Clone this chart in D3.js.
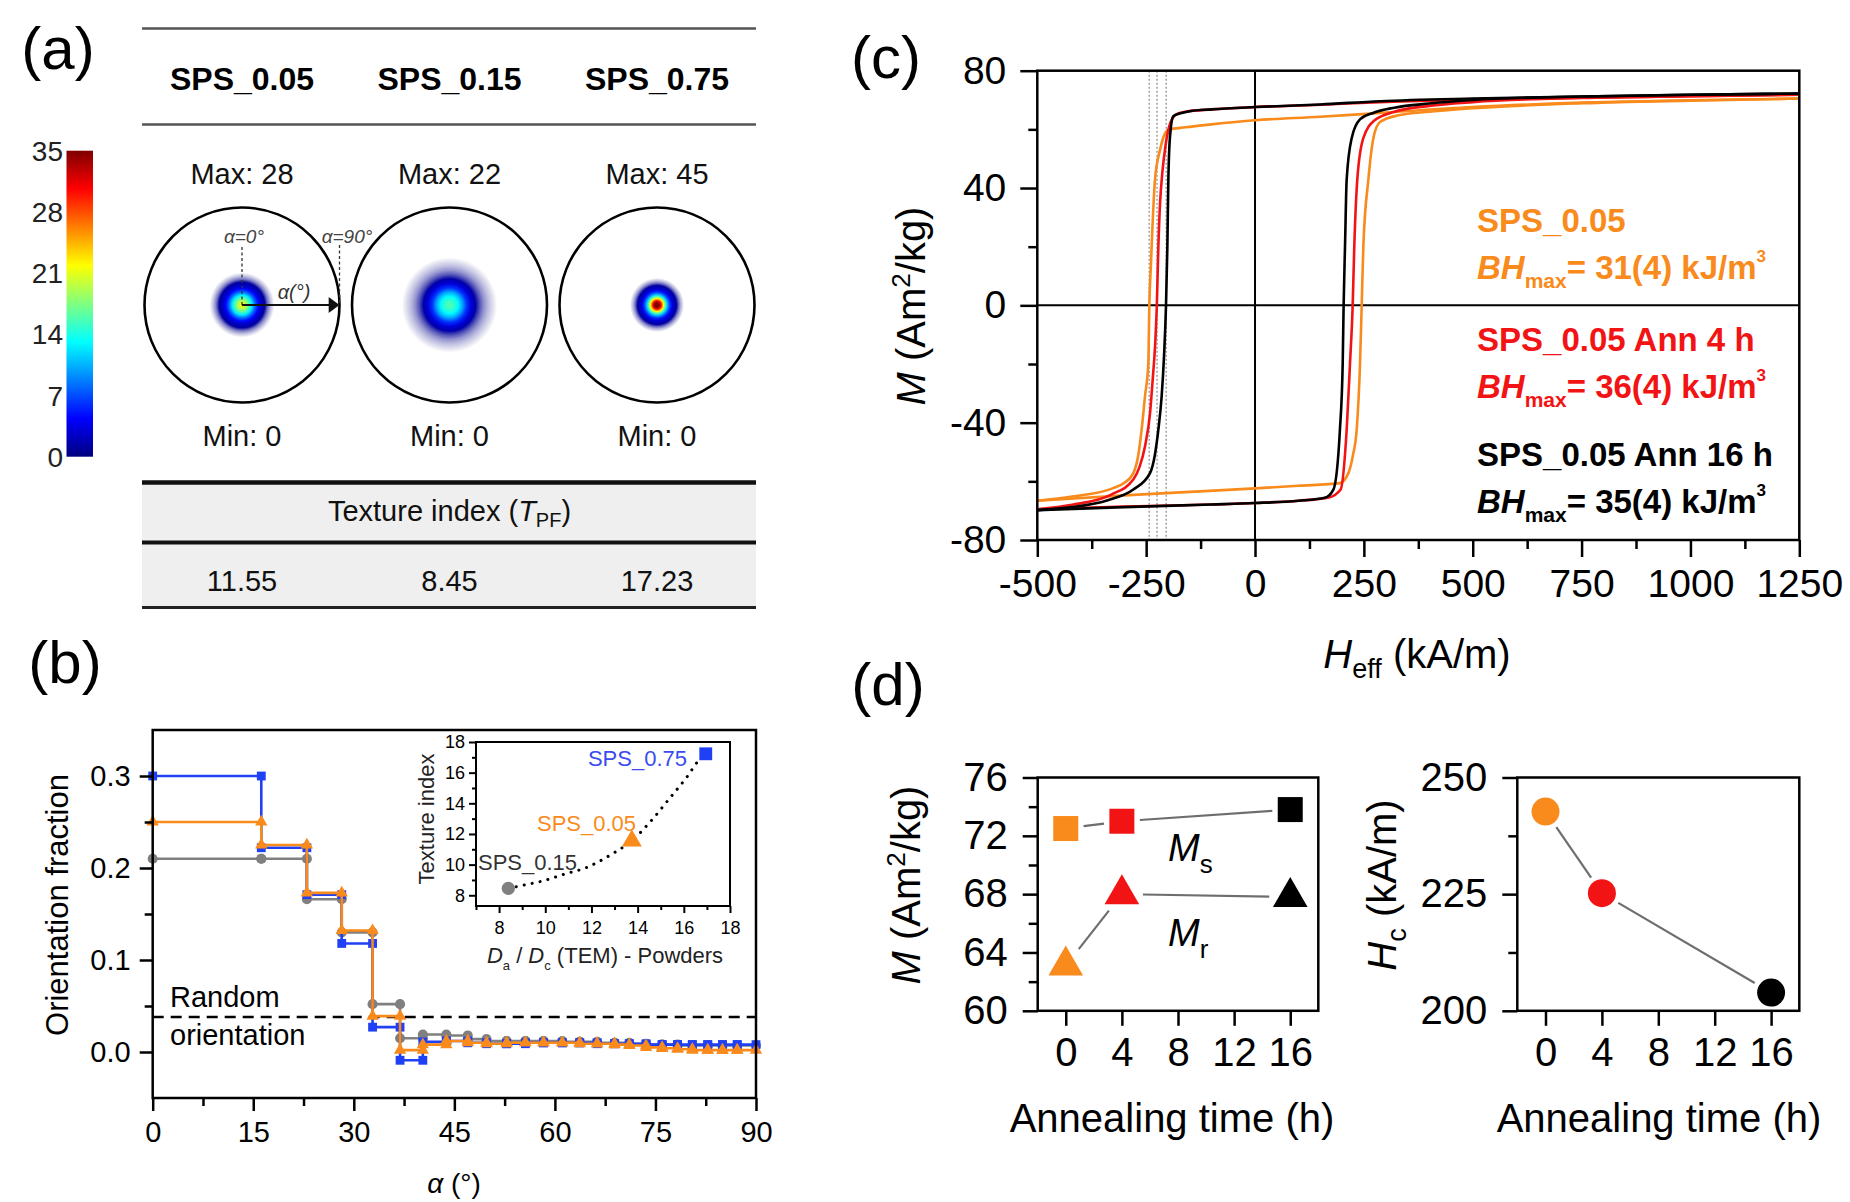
<!DOCTYPE html>
<html>
<head>
<meta charset="utf-8">
<script src="https://cdn.jsdelivr.net/npm/d3@7/dist/d3.min.js"></script>
<style>
  body { margin: 0; background: #fff; }
  svg text { font-family: "Liberation Sans", Arial, Helvetica, sans-serif; }
</style>
</head>
<body>
<svg id="fig" width="1850" height="1202"></svg>
<script>
// ---------- (a) pole figures + table ----------
const samples = ["SPS_0.05", "SPS_0.15", "SPS_0.75"];
const pfMax = [28, 22, 45];
const pfMin = [0, 0, 0];
const textureIdx = ["11.55", "8.45", "17.23"];
const cbarTicks = [0, 7, 14, 21, 28, 35];
// radial intensity (alpha in deg -> m.r.d.)
const pfAlpha = [
  [0, 3, 6, 9, 12, 15, 18, 21, 24, 27, 30],
  [0, 4, 8, 12, 16, 20, 24, 28, 32, 36, 40, 44],
  [0, 2, 4, 6, 8, 10, 12, 14, 16, 18, 20, 22, 25]
];
const pfValue = [
  [22, 20, 16.5, 12.5, 8, 4.5, 2.2, 1.2, 0.6, 0.25, 0],
  [16, 15, 13, 10, 6, 3, 1.4, 0.8, 0.5, 0.3, 0.15, 0],
  [45, 38, 30, 22, 15, 10, 6, 3.5, 2, 1.2, 0.7, 0.35, 0]
];

// ---------- (b) orientation fraction ----------
const alphaEdges = [0, 16.2, 23, 28.2, 32.8, 36.9, 40.3, 43.8, 47.0, 49.8, 52.8, 55.6, 58.3,
  61.1, 63.7, 66.3, 68.9, 71.1, 73.6, 76.0, 78.3, 80.5, 82.8, 85.0, 87.2, 90];
const frac015 = [0.210, 0.210, 0.166, 0.130, 0.052, 0.015, 0.019, 0.018, 0.014, 0.012, 0.012, 0.012,
  0.012, 0.011, 0.011, 0.010, 0.010, 0.009, 0.008, 0.008, 0.007, 0.007, 0.007, 0.007, 0.007];
const frac075 = [0.300, 0.222, 0.171, 0.118, 0.027, -0.009, 0.011, 0.012, 0.010, 0.009, 0.009, 0.010,
  0.010, 0.010, 0.010, 0.009, 0.009, 0.009, 0.008, 0.008, 0.008, 0.008, 0.008, 0.008, 0.008];
const frac005 = [0.250, 0.225, 0.173, 0.132, 0.039, 0.002, 0.008, 0.012, 0.010, 0.009, 0.010, 0.010,
  0.010, 0.010, 0.009, 0.009, 0.008, 0.007, 0.005, 0.004, 0.003, 0.002, 0.002, 0.002, 0.002];
const randomFrac = 0.038;
// inset: texture index vs Da/Dc
const insetNames = ["SPS_0.15", "SPS_0.05", "SPS_0.75"];
const insetRatio = [8.4, 13.75, 16.95];
const insetTexture = [8.45, 11.55, 17.23];
const fitRatio = [8.4, 9.0, 9.9, 10.9, 11.7, 12.9, 13.7, 14.55, 15.4, 16.1, 16.7, 16.95];
const fitTexture = [8.45, 8.64, 8.94, 9.41, 9.76, 10.7, 11.5, 12.8, 14.35, 15.65, 16.9, 17.23];

// ---------- (c) hysteresis loops [H kA/m, M Am2/kg] ----------
const upper005 = [[1250, 70.5], [1000, 69.9], [750, 69.1], [500, 67.6], [287, 65.6], [150, 64.3], [0, 63.1],
  [-100, 61.7], [-160, 60.7], [-199, 59.9], [-210, 57.5], [-218, 53.1], [-229.7, 42.9], [-235.8, 25.8],
  [-238.9, 14.4], [-242.7, 0], [-245, -19.7], [-252.7, -31], [-260.4, -42.4], [-268, -51], [-279.5, -57.2],
  [-300, -60.5], [-325.5, -62.3], [-420, -65.2], [-500, -66.6]];
const lower005 = [[-500, -66.6], [-300, -64.8], [-150, -63.6], [0, -62.4], [100, -61.5], [195.2, -60.6],
  [214.4, -57.2], [225, -51], [233.5, -42.4], [241.2, -19.7], [245, 0], [248.8, 20.1], [260.3, 42.9],
  [271.8, 57], [287, 62.5], [330, 64.8], [400, 66], [500, 67.2], [750, 68.9], [1000, 69.8], [1250, 70.5]];
const upper4h = [[1250, 71.8], [1000, 71.3], [750, 70.8], [500, 70.1], [287, 69.3], [150, 68.4], [0, 67.6],
  [-100, 66.8], [-160, 66], [-180, 65.2], [-195, 62], [-205, 55], [-213, 45], [-218, 35], [-222, 20],
  [-225.5, 0], [-229.6, -14], [-235, -25.3], [-241, -36.7], [-252.7, -48.1], [-265, -55], [-279.5, -59.4],
  [-330, -64.5], [-420, -68], [-500, -69.5]];
const lower4h = [[-500, -69.5], [-300, -68.6], [-100, -67.9], [0, -67.4], [100, -66.6], [170, -65.5],
  [196.6, -62.8], [210.5, -42.4], [218.2, -19.7], [224.3, 0], [228, 20.1], [234.9, 42.9], [248.7, 57],
  [275.5, 63.2], [320, 66], [400, 68], [500, 69.3], [750, 70.7], [1000, 71.3], [1250, 71.8]];
const upper16h = [[1250, 72.2], [1000, 71.8], [750, 71.2], [500, 70.5], [287, 69.6], [150, 68.5], [0, 67.6],
  [-100, 66.8], [-150, 66.2], [-175, 65.3], [-187.6, 64.5], [-195.2, 57.6], [-199, 42.9], [-201.3, 20.1],
  [-204.4, 0], [-209, -17.4], [-214.4, -31], [-222, -42.4], [-230, -51], [-241.2, -57.2], [-279.5, -62.8],
  [-340, -66.5], [-420, -68.8], [-500, -69.8]];
const lower16h = [[-500, -69.8], [-300, -68.8], [-100, -67.9], [0, -67.4], [100, -66.6], [160, -65.6],
  [180, -62.8], [195, -42.4], [201.4, -19.7], [203.5, 0], [206.7, 20.1], [210.5, 42.9], [222, 57],
  [241, 63.4], [271, 65.6], [320, 67.4], [400, 68.8], [500, 70], [750, 71.2], [1000, 71.8], [1250, 72.2]];
const coercive = [-243, -225, -204];
const legendName = ["SPS_0.05", "SPS_0.05 Ann 4 h", "SPS_0.05 Ann 16 h"];
const legendBH = ["31(4)", "36(4)", "35(4)"];

// ---------- (d) vs annealing time ----------
const annealTime = [0, 4, 16];
const Ms = [72.5, 73.0, 73.8];
const Mr = [63.1, 68.0, 67.8];
const Hc = [242.7, 225.2, 203.9];

const orange = "#f98a1c", red = "#f21414", blue = "#2040f5", gray = "#808080";
const annealColor = [orange, red, "#000"];
const svg = d3.select("#fig");
const plain = d => String(d);   // keep the ASCII hyphen for negatives, like the original

const jet = d3.scaleLinear()
  .domain([0, 4.375, 13.125, 21.875, 30.625, 35])
  .range(["#00007f", "#0000ff", "#00ffff", "#ffff00", "#ff0000", "#7f0000"])
  .clamp(true);

function styleAxis(g, size, width) {
  g.attr("font-family", null).attr("font-size", null);
  g.select(".domain").remove();
  g.selectAll(".tick line").attr("stroke", "#000").attr("stroke-width", width || 2.5);
  g.selectAll(".tick text").attr("font-size", size).attr("fill", "#000");
  return g;
}

function addAxes(g, x, y, o) {
  const xr = x.range(), yr = y.range();
  g.append("g").attr("transform", `translate(0,${yr[0]})`)
    .call(d3.axisBottom(x).tickValues(o.xMajor).tickSize(o.major).tickPadding(o.xPad).tickFormat(o.xFmt || plain))
    .call(s => styleAxis(s, o.font, o.w));
  g.append("g").attr("transform", `translate(${xr[0]},0)`)
    .call(d3.axisLeft(y).tickValues(o.yMajor).tickSize(o.major).tickPadding(o.yPad).tickFormat(o.yFmt || plain))
    .call(s => styleAxis(s, o.font, o.w));
  if (o.xMinor) g.append("g").attr("transform", `translate(0,${yr[0]})`)
    .call(d3.axisBottom(x).tickValues(o.xMinor).tickSize(o.minor).tickFormat(""))
    .call(s => styleAxis(s, o.font, o.w));
  if (o.yMinor) g.append("g").attr("transform", `translate(${xr[0]},0)`)
    .call(d3.axisLeft(y).tickValues(o.yMinor).tickSize(o.minor).tickFormat(""))
    .call(s => styleAxis(s, o.font, o.w));
  g.append("rect").attr("x", xr[0]).attr("y", yr[1]).attr("width", xr[1] - xr[0]).attr("height", yr[0] - yr[1])
    .attr("fill", "none").attr("stroke", "#000").attr("stroke-width", o.w || 2.5);
}

function panelLabel(txt, x, y) {
  svg.append("text").attr("x", x).attr("y", y).attr("text-anchor", "middle")
    .attr("font-size", 60).text(txt);
}

// ---------------- panel (a) ----------------
function drawA() {
  const g = svg.append("g");
  const defs = svg.append("defs");
  const col = d3.scalePoint(samples, [242, 657]);
  const cy = 305, R = 97.5, pxDeg = R / 90;

  // table bands and rules
  g.append("rect").attr("x", 142).attr("y", 484).attr("width", 614).attr("height", 123).attr("fill", "#efefef");
  [[28.5, 2.5, "#555"], [124.5, 2.5, "#555"], [482.5, 4.5, "#111"], [542.5, 4, "#111"], [607.5, 3.2, "#222"]]
    .forEach(([y, w, c]) => g.append("line").attr("x1", 142).attr("x2", 756).attr("y1", y).attr("y2", y)
      .attr("stroke", c).attr("stroke-width", w));

  g.selectAll(".hdr").data(samples).enter().append("text")
    .attr("x", d => col(d)).attr("y", 90).attr("text-anchor", "middle")
    .attr("font-size", 32).attr("font-weight", "bold").text(d => d);
  g.selectAll(".mx").data(pfMax).enter().append("text")
    .attr("x", (d, i) => col(samples[i])).attr("y", 184).attr("text-anchor", "middle")
    .attr("font-size", 29).attr("fill", "#111").text(d => "Max: " + d);
  g.selectAll(".mn").data(pfMin).enter().append("text")
    .attr("x", (d, i) => col(samples[i])).attr("y", 446).attr("text-anchor", "middle")
    .attr("font-size", 29).attr("fill", "#111").text(d => "Min: " + d);

  // intensity blobs
  samples.forEach((s, i) => {
    const amax = d3.max(pfAlpha[i]);
    const rg = defs.append("radialGradient").attr("id", "pf" + i);
    pfAlpha[i].forEach((a, k) => {
      const v = pfValue[i][k];
      rg.append("stop").attr("offset", a / amax).attr("stop-color", jet(v))
        .attr("stop-opacity", Math.min(1, v / 1.2));
    });
    g.append("circle").attr("cx", col(s)).attr("cy", cy).attr("r", amax * pxDeg).attr("fill", `url(#pf${i})`);
    g.append("circle").attr("cx", col(s)).attr("cy", cy).attr("r", R)
      .attr("fill", "none").attr("stroke", "#000").attr("stroke-width", 2.6);
  });

  // alpha annotation on first figure
  const c0 = col(samples[0]);
  const ax = d3.scaleLinear([0, 90], [c0, c0 + R]);
  [[0, 247], [90, 245]].forEach(([a, y0]) => g.append("line").attr("x1", ax(a)).attr("x2", ax(a))
    .attr("y1", y0).attr("y2", cy).attr("stroke", "#333").attr("stroke-width", 1.3).attr("stroke-dasharray", "3,2.5"));
  g.append("line").attr("x1", ax(0)).attr("x2", ax(84)).attr("y1", cy).attr("y2", cy)
    .attr("stroke", "#111").attr("stroke-width", 2.2);
  g.append("path").attr("d", `M${ax(90)},${cy} L${ax(80)},${cy - 8} L${ax(80)},${cy + 8} Z`).attr("fill", "#111");
  [[0, "α=0°", 244], [90, "α=90°", 347]].forEach(([a, t, x]) => g.append("text").attr("x", x).attr("y", 243)
    .attr("text-anchor", "middle").attr("font-size", 19).attr("fill", "#444").attr("font-style", "italic").text(t));
  g.append("text").attr("x", ax(48)).attr("y", 299).attr("text-anchor", "middle").attr("font-size", 20)
    .attr("fill", "#333").attr("font-style", "italic").text("α(°)");

  // colour bar
  const cb = d3.scaleLinear([0, 35], [456.7, 150.7]);
  const lg = defs.append("linearGradient").attr("id", "cbar").attr("x1", 0).attr("x2", 0).attr("y1", 1).attr("y2", 0);
  jet.domain().forEach(v => lg.append("stop").attr("offset", v / 35).attr("stop-color", jet(v)));
  g.append("rect").attr("x", 66.5).attr("y", cb(35)).attr("width", 26.5).attr("height", cb(0) - cb(35))
    .attr("fill", "url(#cbar)");
  g.selectAll(".cbt").data(cbarTicks).enter().append("text")
    .attr("x", 63).attr("y", d => cb(d) + 10).attr("text-anchor", "end").attr("font-size", 28)
    .attr("fill", "#222").text(d => d);

  // texture index row
  const t = g.append("text").attr("x", col(samples[1])).attr("y", 521).attr("text-anchor", "middle")
    .attr("font-size", 29).attr("fill", "#111");
  t.append("tspan").text("Texture index (");
  t.append("tspan").attr("font-style", "italic").text("T");
  t.append("tspan").attr("font-size", 20).attr("dy", 6).text("PF");
  t.append("tspan").attr("dy", -6).text(")");
  g.selectAll(".ti").data(textureIdx).enter().append("text")
    .attr("x", (d, i) => col(samples[i])).attr("y", 591).attr("text-anchor", "middle")
    .attr("font-size", 29).attr("fill", "#111").text(d => d);
}

// ---------------- panel (b) ----------------
function drawB() {
  const g = svg.append("g");
  const x = d3.scaleLinear([0, 90], [152.7, 756]);
  const y = d3.scaleLinear([-0.05, 0.35], [1098, 730]);

  g.append("line").attr("x1", x(0)).attr("x2", x(90)).attr("y1", y(randomFrac)).attr("y2", y(randomFrac))
    .attr("stroke", "#000").attr("stroke-width", 2.6).attr("stroke-dasharray", "11,7");

  const series = [
    { v: frac015, c: gray, sym: d3.symbolCircle, size: 80 },
    { v: frac075, c: blue, sym: d3.symbolSquare, size: 78 },
    { v: frac005, c: orange, sym: d3.symbolTriangle, size: 66 }
  ];
  const line = d3.line().x(d => x(d[0])).y(d => y(d[1]));
  series.forEach(s => {
    const pts = s.v.flatMap((v, i) => [[alphaEdges[i], v], [alphaEdges[i + 1], v]]);
    g.append("path").datum(pts).attr("d", line).attr("fill", "none")
      .attr("stroke", s.c).attr("stroke-width", 2.6);
    g.append("g").selectAll("path").data(pts).enter().append("path")
      .attr("transform", d => `translate(${x(d[0])},${y(d[1])})`)
      .attr("d", d3.symbol(s.sym, s.size)).attr("fill", s.c);
  });

  addAxes(g, x, y, {
    xMajor: d3.range(0, 91, 15), xMinor: d3.range(7.5, 90, 15),
    yMajor: [0, 0.1, 0.2, 0.3], yMinor: [0.05, 0.15, 0.25],
    major: 13, minor: 8, xPad: 10, yPad: 9, font: 29, yFmt: d3.format(".1f")
  });

  g.append("text").attr("x", 170).attr("y", 1007).attr("font-size", 29).text("Random");
  g.append("text").attr("x", 170).attr("y", 1045).attr("font-size", 29).text("orientation");
  g.append("text").attr("transform", "translate(68,905) rotate(-90)").attr("text-anchor", "middle")
    .attr("font-size", 31).text("Orientation fraction");
  // axis title near the bottom edge of the figure
  const xl = g.append("text").attr("x", 454).attr("y", 1193).attr("text-anchor", "middle").attr("font-size", 28);
  xl.append("tspan").attr("font-style", "italic").text("α");
  xl.append("tspan").text(" (°)");

  // inset
  const xi = d3.scaleLinear([7, 18], [476, 730]);
  const yi = d3.scaleLinear([7.3, 18], [906, 742]);
  const gi = g.append("g");
  gi.append("rect").attr("x", 476).attr("y", 742).attr("width", 254).attr("height", 164).attr("fill", "#fff");
  const fit = fitRatio.map((r, i) => [r, fitTexture[i]]);
  gi.append("path").datum(fit)
    .attr("d", d3.line().x(d => xi(d[0])).y(d => yi(d[1])).curve(d3.curveMonotoneX))
    .attr("fill", "none").attr("stroke", "#000").attr("stroke-width", 3)
    .attr("stroke-linecap", "round").attr("stroke-dasharray", "0.1,8");
  const insetSym = [[d3.symbolCircle, 140, gray], [d3.symbolTriangle, 170, orange], [d3.symbolSquare, 165, blue]];
  insetRatio.forEach((r, i) => gi.append("path")
    .attr("transform", `translate(${xi(r)},${yi(insetTexture[i])})`)
    .attr("d", d3.symbol(insetSym[i][0], insetSym[i][1])).attr("fill", insetSym[i][2]));
  addAxes(gi, xi, yi, {
    xMajor: d3.range(8, 19, 2), xMinor: d3.range(7, 18, 2),
    yMajor: d3.range(8, 19, 2), yMinor: d3.range(9, 18, 2),
    major: 7, minor: 4, xPad: 8, yPad: 4, font: 18, w: 2
  });
  gi.append("text").attr("x", 687).attr("y", 766).attr("text-anchor", "end").attr("font-size", 22)
    .attr("fill", "#3a4cf0").text(insetNames[2]);
  gi.append("text").attr("x", 537).attr("y", 831).attr("font-size", 22).attr("fill", orange).text(insetNames[1]);
  gi.append("text").attr("x", 478).attr("y", 870).attr("font-size", 22).attr("fill", "#333").text(insetNames[0]);
  gi.append("text").attr("transform", "translate(434,819) rotate(-90)").attr("text-anchor", "middle")
    .attr("font-size", 22).attr("fill", "#222").text("Texture index");
  const it = gi.append("text").attr("x", 605).attr("y", 963).attr("text-anchor", "middle")
    .attr("font-size", 22).attr("fill", "#222");
  it.append("tspan").attr("font-style", "italic").text("D");
  it.append("tspan").attr("font-size", 13).attr("dy", 7).text("a");
  it.append("tspan").attr("dy", -7).text(" / ");
  it.append("tspan").attr("font-style", "italic").text("D");
  it.append("tspan").attr("font-size", 13).attr("dy", 7).text("c");
  it.append("tspan").attr("dy", -7).text(" (TEM) - Powders");
}

// ---------------- panel (c) ----------------
function drawC() {
  const g = svg.append("g");
  const x = d3.scaleLinear([-500, 1250], [1037.3, 1799.3]);
  const y = d3.scaleLinear([-80, 80], [540, 70.7]);

  coercive.forEach(h => g.append("line").attr("x1", x(h)).attr("x2", x(h)).attr("y1", y(80)).attr("y2", y(-80))
    .attr("stroke", "#9a9a9a").attr("stroke-width", 1.4).attr("stroke-dasharray", "2,2"));
  g.append("line").attr("x1", x(-500)).attr("x2", x(1250)).attr("y1", y(0)).attr("y2", y(0))
    .attr("stroke", "#000").attr("stroke-width", 2);
  g.append("line").attr("x1", x(0)).attr("x2", x(0)).attr("y1", y(80)).attr("y2", y(-80))
    .attr("stroke", "#000").attr("stroke-width", 2);

  const line = d3.line().x(d => x(d[0])).y(d => y(d[1])).curve(d3.curveMonotoneX);
  const loops = [[upper005, lower005, orange], [upper4h, lower4h, red], [upper16h, lower16h, "#000"]];
  loops.forEach(([up, lo, c]) => {
    [up, lo].forEach(br => g.append("path")
      .datum(br.slice().sort((a, b) => a[0] - b[0]))
      .attr("d", line).attr("fill", "none").attr("stroke", c).attr("stroke-width", 2.6));
  });

  addAxes(g, x, y, {
    xMajor: d3.range(-500, 1251, 250), xMinor: d3.range(-375, 1250, 250),
    yMajor: [-80, -40, 0, 40, 80], yMinor: [-60, -20, 20, 60],
    major: 17, minor: 9, xPad: 12, yPad: 14, font: 39
  });

  const yl = g.append("text").attr("transform", "translate(925,306) rotate(-90)").attr("text-anchor", "middle")
    .attr("font-size", 40);
  yl.append("tspan").attr("font-style", "italic").text("M");
  yl.append("tspan").text(" (Am");
  yl.append("tspan").attr("font-size", 26).attr("dy", -15).text("2");
  yl.append("tspan").attr("dy", 15).text("/kg)");
  const xl = g.append("text").attr("x", 1417).attr("y", 668).attr("text-anchor", "middle").attr("font-size", 40);
  xl.append("tspan").attr("font-style", "italic").text("H");
  xl.append("tspan").attr("font-size", 27).attr("dy", 10).text("eff");
  xl.append("tspan").attr("dy", -10).text(" (kA/m)");

  const legendColor = [orange, red, "#000"];
  const base = [232, 351, 466];
  legendName.forEach((n, i) => {
    g.append("text").attr("x", 1477).attr("y", base[i]).attr("font-size", 33).attr("font-weight", "bold")
      .attr("fill", legendColor[i]).text(n);
    const t = g.append("text").attr("x", 1477).attr("y", base[i] + 47).attr("font-size", 33)
      .attr("font-weight", "bold").attr("fill", legendColor[i]);
    t.append("tspan").attr("font-style", "italic").text("BH");
    t.append("tspan").attr("font-size", 21).attr("dy", 9).text("max");
    t.append("tspan").attr("dy", -9).text("= " + legendBH[i] + " kJ/m");
    t.append("tspan").attr("font-size", 17).attr("dy", -17).text("3");
  });
}

// ---------------- panel (d) ----------------
function gapSegments(g, pts, gap, color) {
  for (let i = 0; i < pts.length - 1; i++) {
    const [x0, y0] = pts[i], [x1, y1] = pts[i + 1];
    const L = Math.hypot(x1 - x0, y1 - y0), ux = (x1 - x0) / L, uy = (y1 - y0) / L;
    g.append("line").attr("x1", x0 + ux * gap).attr("y1", y0 + uy * gap)
      .attr("x2", x1 - ux * gap).attr("y2", y1 - uy * gap)
      .attr("stroke", color).attr("stroke-width", 2.2);
  }
}

function drawD() {
  const g = svg.append("g");
  const xl = d3.scaleLinear([-2, 18], [1037.7, 1318.3]);
  const yl = d3.scaleLinear([60, 76], [1010.8, 777.5]);
  const xr = d3.scaleLinear([-2, 18], [1517.3, 1799.3]);
  const yr = d3.scaleLinear([200, 250], [1010.8, 777.5]);

  gapSegments(g, annealTime.map((t, i) => [xl(t), yl(Ms[i])]), 18, "#6e6e6e");
  gapSegments(g, annealTime.map((t, i) => [xl(t), yl(Mr[i])]), 21, "#6e6e6e");
  gapSegments(g, annealTime.map((t, i) => [xr(t), yr(Hc[i])]), 19, "#6e6e6e");

  annealTime.forEach((t, i) => {
    g.append("path").attr("transform", `translate(${xl(t)},${yl(Ms[i])})`)
      .attr("d", d3.symbol(d3.symbolSquare, 625)).attr("fill", annealColor[i]);
    g.append("path").attr("transform", `translate(${xl(t)},${yl(Mr[i])})`)
      .attr("d", d3.symbol(d3.symbolTriangle, 520)).attr("fill", annealColor[i]);
    g.append("circle").attr("cx", xr(t)).attr("cy", yr(Hc[i])).attr("r", 14).attr("fill", annealColor[i]);
  });

  addAxes(g, xl, yl, {
    xMajor: [0, 4, 8, 12, 16], yMajor: [60, 64, 68, 72, 76], yMinor: [62, 66, 70, 74],
    major: 15, minor: 9, xPad: 12, yPad: 15, font: 40
  });
  addAxes(g, xr, yr, {
    xMajor: [0, 4, 8, 12, 16], yMajor: [200, 225, 250], yMinor: [212.5, 237.5],
    major: 15, minor: 9, xPad: 12, yPad: 15, font: 40
  });

  [[1172, "Annealing time (h)"], [1659, "Annealing time (h)"]].forEach(([x, t]) =>
    g.append("text").attr("x", x).attr("y", 1132).attr("text-anchor", "middle").attr("font-size", 40).text(t));

  const ml = g.append("text").attr("transform", "translate(920,885) rotate(-90)").attr("text-anchor", "middle")
    .attr("font-size", 40);
  ml.append("tspan").attr("font-style", "italic").text("M");
  ml.append("tspan").text(" (Am");
  ml.append("tspan").attr("font-size", 26).attr("dy", -15).text("2");
  ml.append("tspan").attr("dy", 15).text("/kg)");
  const hl = g.append("text").attr("transform", "translate(1396,885) rotate(-90)").attr("text-anchor", "middle")
    .attr("font-size", 40);
  hl.append("tspan").attr("font-style", "italic").text("H");
  hl.append("tspan").attr("font-size", 27).attr("dy", 10).text("c");
  hl.append("tspan").attr("dy", -10).text(" (kA/m)");

  [["s", 861], ["r", 946]].forEach(([s, yb]) => {
    const t = g.append("text").attr("x", 1168).attr("y", yb).attr("font-size", 38);
    t.append("tspan").attr("font-style", "italic").text("M");
    t.append("tspan").attr("font-size", 26).attr("dy", 12).text(s);
  });
}

drawA();
drawB();
drawC();
drawD();
panelLabel("(a)", 58, 69);
panelLabel("(b)", 65, 683);
panelLabel("(c)", 886, 78);
panelLabel("(d)", 888, 705);
</script>
</body>
</html>
